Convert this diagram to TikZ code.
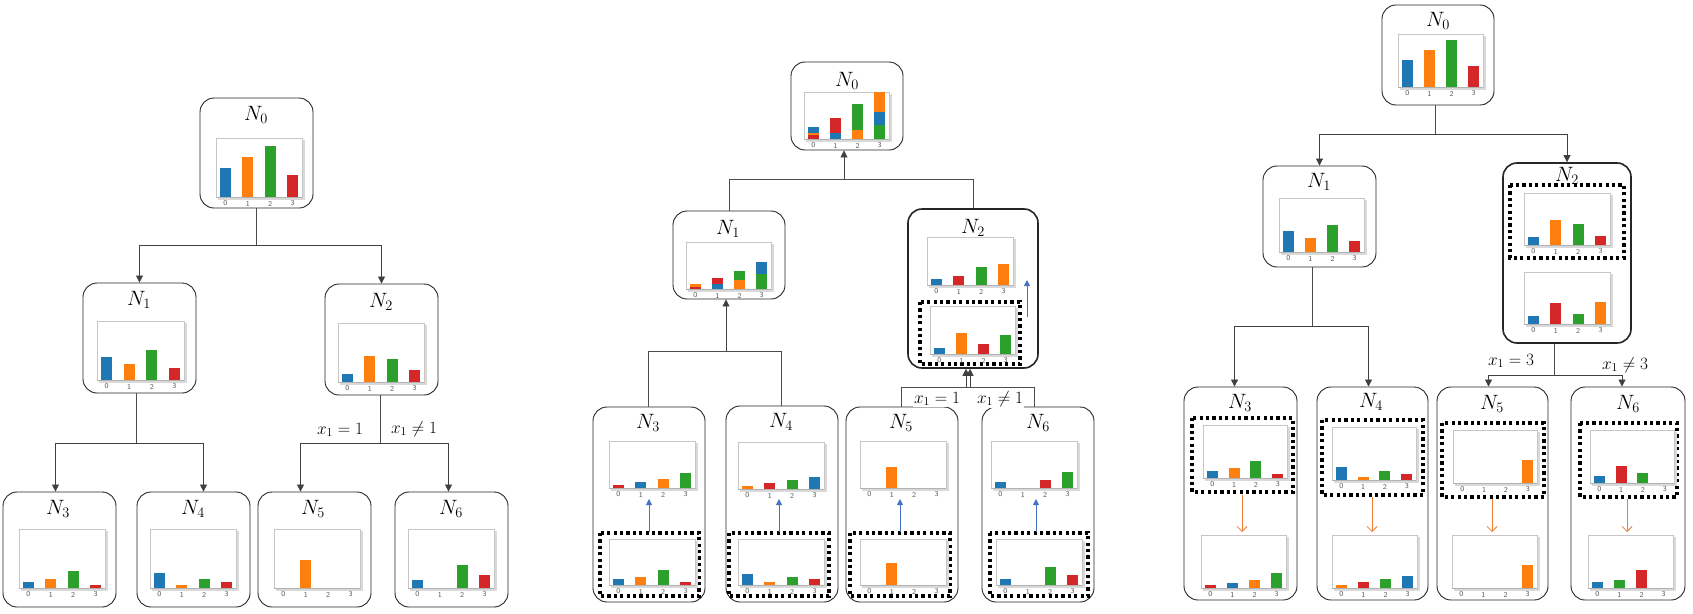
\documentclass[tikz,border=0pt]{standalone}
\usetikzlibrary{arrows.meta}
\definecolor{cb}{HTML}{1F77B4}
\definecolor{co}{HTML}{FF7F0E}
\definecolor{cg}{HTML}{2CA02C}
\definecolor{cr}{HTML}{D62728}
\definecolor{ablue}{HTML}{4472C4}
\definecolor{aor}{HTML}{ED7D31}
\newcommand{\ch}[5]{%
  \fill[gray!30] (#1+2,#2+2) rectangle (#1+#3+3,#2+#4+3);
  \draw[gray!45,fill=white] (#1,#2) rectangle (#1+#3,#2+#4);
  \foreach \bi/\bb/\bt/\bc in {#5}{%
    \fill[\bc] ({#1+#3*(0.045+0.26*\bi)},{#2+#4-\bb}) rectangle ({#1+#3*(0.175+0.26*\bi)},{#2+#4-\bt});}
  \draw[gray!60] (#1,#2+#4) -- (#1+#3,#2+#4);
  \foreach \ti in {0,1,2,3}{\node[tick] at ({#1+#3*(0.11+0.26*\ti)},{#2+#4+6.5}) {\ti};}
}
\begin{document}
\begin{tikzpicture}[x=1pt,y=-1pt,
  box/.style={draw=black!85,line width=0.9pt,rounded corners=14pt,inner sep=0pt},
  bbox/.style={box,line width=1.6pt},
  lab/.style={font=\fontsize{22}{24}\selectfont,inner sep=0pt},
  cond/.style={font=\fontsize{17.5}{20}\selectfont,inner sep=0pt},
  tick/.style={font=\sffamily\fontsize{7.5}{8}\selectfont,text=black!65,inner sep=0pt},
  dsh/.style={draw=black,line width=3.2pt,dash pattern=on 3.2pt off 3.2pt},
  ln/.style={draw=black!70,line width=0.8pt},
  arr/.style={ln,-{Triangle[length=7pt,width=7pt]},draw=black!75},
  barr/.style={draw=ablue,line width=0.8pt,-{Triangle[length=6pt,width=6pt]}},
  oarr/.style={draw=aor,line width=0.8pt,-{Straight Barb[length=5pt,width=10pt]}}]
\useasboundingbox (0,0) rectangle (1693,613);
\fill[white] (0,0) rectangle (1693,613);

% ================= LEFT PANEL =================
\node[box,minimum width=113pt,minimum height=110pt] (L0) at (256.5,153) {};
\node[box,minimum width=113pt,minimum height=110pt] (L1) at (139.5,338) {};
\node[box,minimum width=113pt,minimum height=111pt] (L2) at (381.5,339.5) {};
\node[box,minimum width=113pt,minimum height=115pt] (L3) at (59.5,549.5) {};
\node[box,minimum width=113pt,minimum height=115pt] (L4) at (193.5,549.5) {};
\node[box,minimum width=113pt,minimum height=115pt] (L5) at (314.5,549.5) {};
\node[box,minimum width=113pt,minimum height=115pt] (L6) at (451.5,549.5) {};
\node[lab] (tL0) at (256,115) {$N_0$};
\node[lab] (tL1) at (139,300) {$N_1$};
\node[lab] (tL2) at (381,302) {$N_2$};
\node[lab] (tL3) at (58,509) {$N_3$};
\node[lab] (tL4) at (193,509) {$N_4$};
\node[lab] (tL5) at (313,509) {$N_5$};
\node[lab] (tL6) at (451,509) {$N_6$};
\ch{216}{138}{86}{59}{0/0/29/cb,1/0/40/co,2/0/51/cg,3/0/22/cr}
\ch{97}{321}{87}{59}{0/0/23/cb,1/0/16/co,2/0/30/cg,3/0/12/cr}
\ch{338}{323}{86}{59}{0/0/8/cb,1/0/26/co,2/0/23/cg,3/0/12/cr}
\ch{19}{529}{86}{59}{0/0/6/cb,1/0/9/co,2/0/17/cg,3/0/3/cr}
\ch{150}{529}{86}{59}{0/0/15/cb,1/0/3/co,2/0/9/cg,3/0/6/cr}
\ch{274}{529}{86}{59}{1/0/28/co}
\ch{408}{529}{86}{59}{0/0/8/cb,2/0/23/cg,3/0/13/cr}
\coordinate (jL0) at (256,245);
\coordinate (jL1) at (136,443);
\coordinate (jL2) at (380,443);
\draw[ln] (L0.south -| jL0) -- (jL0);
\draw[arr] (jL0) -| (L1.north);
\draw[arr] (jL0) -| (L2.north);
\draw[ln] (L1.south -| jL1) -- (jL1);
\draw[arr] (jL1) -| ([xshift=-4pt]L3.north);
\draw[arr] (jL1) -| ([xshift=10pt]L4.north);
\draw[ln] (L2.south -| jL2) -- (jL2);
\draw[arr] (jL2) -| ([xshift=-14pt]L5.north);
\draw[arr] (jL2) -| ([xshift=-3pt]L6.north);
\node[cond] (cL1) at (340,430) {$x_1 = 1$};
\node[cond] (cL2) at (414,429) {$x_1 \neq 1$};

% ================= MIDDLE PANEL =================
\node[box,minimum width=112pt,minimum height=88pt] (M0) at (847,106) {};
\node[box,minimum width=112pt,minimum height=88pt] (M1) at (729,255) {};
\node[bbox,minimum width=130pt,minimum height=159pt] (M2) at (973,288.5) {};
\node[box,minimum width=112pt,minimum height=195pt] (M3) at (649,504.5) {};
\node[box,minimum width=112pt,minimum height=196pt] (M4) at (782,504) {};
\node[box,minimum width=112pt,minimum height=195pt] (M5) at (902,504.5) {};
\node[box,minimum width=112pt,minimum height=195pt] (M6) at (1038,504.5) {};
\node[lab] (tM0) at (847,81) {$N_0$};
\node[lab] (tM1) at (728,229) {$N_1$};
\node[lab] (tM2) at (973,228) {$N_2$};
\node[lab] (tM3) at (648,423) {$N_3$};
\node[lab] (tM4) at (781,422) {$N_4$};
\node[lab] (tM5) at (901,423) {$N_5$};
\node[lab] (tM6) at (1038,423) {$N_6$};
\ch{804}{92}{85}{47}{0/0/4/cr,0/4/6/co,0/6/12/cb,1/0/6/cb,1/6/21/cr,2/0/9/co,2/9/35/cg,3/0/14/cg,3/14/27/cb,3/27/47/co}
\ch{686}{242}{85}{47}{0/0/2/cr,0/2/5/co,1/0/5/cb,1/5/11/cr,2/0/9/co,2/9/18/cg,3/0/15/cg,3/15/27/cb}
\ch{927}{237}{86}{48}{0/0/6/cb,1/0/9/cr,2/0/18/cg,3/0/21/co}
\draw[dsh] (920,302) rectangle (1020,364);
\ch{930}{306}{85}{48}{0/0/6/cb,1/0/21/co,2/0/10/cr,3/0/19/cg}
\draw[barr] (1027,317) -- (1027,280);
% bottom row upper charts
\ch{609}{441}{86}{47}{0/0/3/cr,1/0/6/cb,2/0/9/co,3/0/15/cg}
\ch{738}{442}{86}{47}{0/0/3/co,1/0/6/cr,2/0/9/cg,3/0/12/cb}
\ch{860}{441}{86}{47}{1/0/21/co}
\ch{991}{441}{86}{47}{0/0/6/cb,2/0/8/cr,3/0/16/cg}
% dashed lower
\draw[dsh] (600,533) rectangle (699,596);
\draw[dsh] (729,533) rectangle (829,596);
\draw[dsh] (850,533) rectangle (950,596);
\draw[dsh] (990,533) rectangle (1088,596);
\ch{609}{539}{86}{46}{0/0/6/cb,1/0/8/co,2/0/15/cg,3/0/3/cr}
\ch{738}{539}{86}{46}{0/0/11/cb,1/0/3/co,2/0/8/cg,3/0/6/cr}
\ch{860}{539}{86}{46}{1/0/22/co}
\ch{996}{539}{86}{46}{0/0/6/cb,2/0/18/cg,3/0/10/cr}
\draw[barr] (649,532) -- (649,499);
\draw[barr] (779,532) -- (779,499);
\draw[barr] (900,532) -- (900,499);
\draw[barr] (1036,532) -- (1036,499);
\coordinate (jM0) at (844,179);
\coordinate (jM1) at (726,351);
\coordinate (jM2) at (968,387);
\draw[arr] (jM0) -- (M0.south -| jM0);
\draw[ln] (jM0) -| (M1.north);
\draw[ln] (jM0) -| (M2.north);
\draw[arr] (jM1) -- (M1.south -| jM1);
\draw[ln] (jM1) -| ([xshift=-1pt]M3.north);
\draw[ln] (jM1) -| ([xshift=-1pt]M4.north);
\draw[arr] ([xshift=-2pt]jM2) -- ([xshift=-2pt]M2.south -| jM2);
\draw[arr] ([xshift=2pt]jM2) -- ([xshift=2pt]M2.south -| jM2);
\draw[ln] (jM2) -| ([xshift=-1pt]M5.north);
\draw[ln] (jM2) -| ([xshift=-4pt]M6.north);
\node[cond,fill=white,inner sep=1pt] (cM1) at (937,399) {$x_1 = 1$};
\node[cond,fill=white,inner sep=1pt] (cM2) at (1000,399) {$x_1 \neq 1$};

% ================= RIGHT PANEL =================
\node[box,minimum width=112pt,minimum height=100pt] (R0) at (1438,55) {};
\node[box,minimum width=113pt,minimum height=101pt] (R1) at (1319.5,216.5) {};
\node[bbox,minimum width=128pt,minimum height=180pt] (R2) at (1567,253) {};
\node[box,minimum width=113pt,minimum height=213pt] (R3) at (1240.5,493.5) {};
\node[box,minimum width=111pt,minimum height=213pt] (R4) at (1372.5,493.5) {};
\node[box,minimum width=111pt,minimum height=213pt] (R5) at (1492.5,493.5) {};
\node[box,minimum width=114pt,minimum height=213pt] (R6) at (1628,493.5) {};
\node[lab] (tR0) at (1438,21) {$N_0$};
\node[lab] (tR1) at (1319,182) {$N_1$};
\node[lab] (tR2) at (1567,176) {$N_2$};
\node[lab] (tR3) at (1240,403) {$N_3$};
\node[lab] (tR4) at (1371,402) {$N_4$};
\node[lab] (tR5) at (1492,404) {$N_5$};
\node[lab] (tR6) at (1628,404) {$N_6$};
\ch{1398}{34}{85}{53}{0/0/27/cb,1/0/37/co,2/0/47/cg,3/0/21/cr}
\ch{1279}{198}{85}{54}{0/0/21/cb,1/0/14/co,2/0/27/cg,3/0/11/cr}
\draw[dsh] (1510,185) rectangle (1624,258);
\ch{1524}{193}{86}{52}{0/0/8/cb,1/0/25/co,2/0/21/cg,3/0/9/cr}
\ch{1524}{272}{86}{52}{0/0/8/cb,1/0/21/cr,2/0/10/cg,3/0/22/co}
% dashed upper boxes bottom row
\draw[dsh] (1192,418) rectangle (1293,492);
\draw[dsh] (1322,420) rectangle (1423,495);
\draw[dsh] (1442,423) rectangle (1544,497);
\draw[dsh] (1580,423) rectangle (1677,497);
\ch{1203}{425}{84}{53}{0/0/7/cb,1/0/10/co,2/0/17/cg,3/0/4/cr}
\ch{1332}{427}{84}{53}{0/0/13/cb,1/0/3/co,2/0/9/cg,3/0/6/cr}
\ch{1453}{430}{84}{53}{3/0/23/co}
\ch{1590}{430}{84}{53}{0/0/7/cb,1/0/17/cr,2/0/10/cg}
\draw[oarr] (1242,495) -- (1242,532);
\draw[oarr] (1372,497) -- (1372,532);
\draw[oarr] (1492,499) -- (1492,532);
\draw[oarr] (1627,499) -- (1627,532);
\ch{1201}{535}{85}{53}{0/0/3/cr,1/0/5/cb,2/0/8/co,3/0/15/cg}
\ch{1332}{535}{85}{53}{0/0/3/co,1/0/6/cr,2/0/9/cg,3/0/12/cb}
\ch{1452}{535}{85}{53}{3/0/23/co}
\ch{1588}{535}{85}{53}{0/0/6/cb,1/0/8/cg,2/0/18/cr}
\coordinate (jR0) at (1435,134);
\coordinate (jR1) at (1312,326);
\coordinate (jR2) at (1554,375);
\draw[ln] (R0.south -| jR0) -- (jR0);
\draw[arr] (jR0) -| (R1.north);
\draw[arr] (jR0) -| (R2.north);
\draw[ln] (R1.south -| jR1) -- (jR1);
\draw[arr] (jR1) -| ([xshift=-6pt]R3.north);
\draw[arr] (jR1) -| ([xshift=-4pt]R4.north);
\draw[ln] (R2.south -| jR2) -- (jR2);
\draw[arr] (jR2) -| ([xshift=-4pt]R5.north);
\draw[arr] (jR2) -| ([xshift=-6pt]R6.north);
\node[cond] (cR1) at (1511,361) {$x_1 = 3$};
\node[cond] (cR2) at (1625,365) {$x_1 \neq 3$};
\end{tikzpicture}
\end{document}
